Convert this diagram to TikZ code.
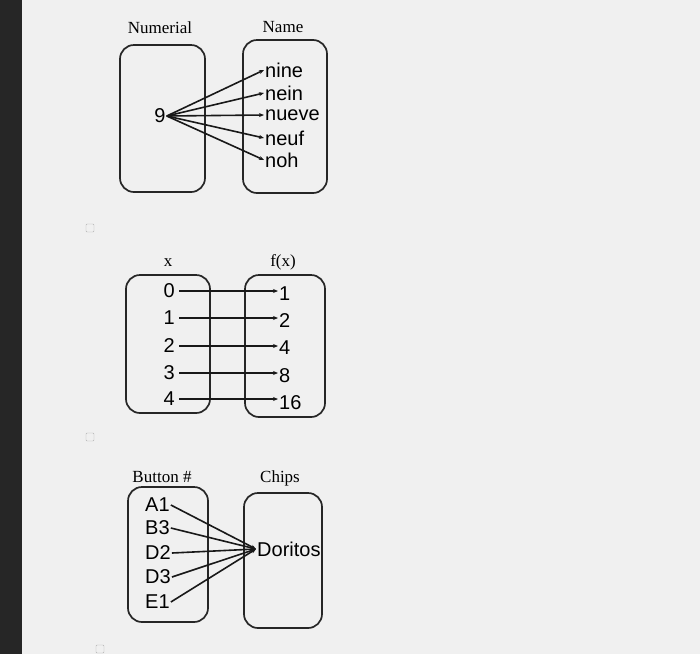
\documentclass[tikz,border=0pt]{standalone}
\usepackage{fontspec}
\setmainfont{Liberation Serif}
\newfontfamily\sans{Liberation Sans}
\usetikzlibrary{arrows.meta}
\begin{document}
\begin{tikzpicture}[x=1pt,y=-1pt,
  setbox/.style={draw=black!85,line width=1.7pt,rounded corners=14pt},
  ttl/.style={font=\fontsize{17}{17}\selectfont},
  item/.style={font=\sans\fontsize{20}{20}\selectfont,inner sep=1pt},
  arr/.style={-{Stealth[length=5pt,width=4pt]},line width=1.6pt,black!90}]
\useasboundingbox (0,0) rectangle (700,654);
\fill[gray!12] (0,0) rectangle (700,654);
\fill[black!85] (0,0) rectangle (22,654);
\draw[gray!60,rounded corners=1pt] (86,224) rectangle (94,232);
\draw[gray!60,rounded corners=1pt] (86,433) rectangle (94,441);
\draw[gray!60,rounded corners=1pt] (96,645) rectangle (104,653);
% diagram 1
\node[ttl] (t1) at (160,28) {Numerial};
\node[ttl] (t2) at (283,27) {Name};
\draw[setbox] (120,45) rectangle (205,192);
\draw[setbox] (243,40) rectangle (327,193);
\node[item] (n9) at (160,116) {9};
\foreach \t/\y/\n in {nine/70/a,nein/93/b,nueve/115/c,neuf/138/d,noh/160/e}{
  \node[item,anchor=west] (\n) at (264,\y) {\t};
  \draw[arr] (n9.east) -- (\n.west);
}
% diagram 2
\node[ttl] (t3) at (168,263) {x};
\node[ttl] (t4) at (283,262) {f(x)};
\draw[setbox] (126,275) rectangle (210,413);
\draw[setbox] (245,275) rectangle (325,417);
\foreach \a/\ya/\b/\yb/\n in {0/291/1/294/p,1/318/2/321/q,2/346/4/348/r,3/373/8/376/s,4/399/16/403/t}{
  \node[item,anchor=east] (l\n) at (176,\ya) {\a};
  \node[item,anchor=west] (r\n) at (278,\yb) {\b};
  \draw[arr] (l\n.east) ++(3,0) -- (r\n.west |- l\n.east);
}
% diagram 3
\node[ttl] (t5) at (162,477) {Button \#};
\node[ttl] (t6) at (280,478) {Chips};
\draw[setbox] (128,487) rectangle (208,622);
\draw[setbox] (244,493) rectangle (322,628);
\node[item,anchor=west] (dor) at (256,549) {Doritos};
\foreach \t/\y/\n in {A1/505/u,B3/528/v,D2/553/w,D3/577/x,E1/602/y}{
  \node[item,anchor=west] (\n) at (144,\y) {\t};
  \draw[arr] (\n.east) -- (dor.west);
}
\end{tikzpicture}
\end{document}
